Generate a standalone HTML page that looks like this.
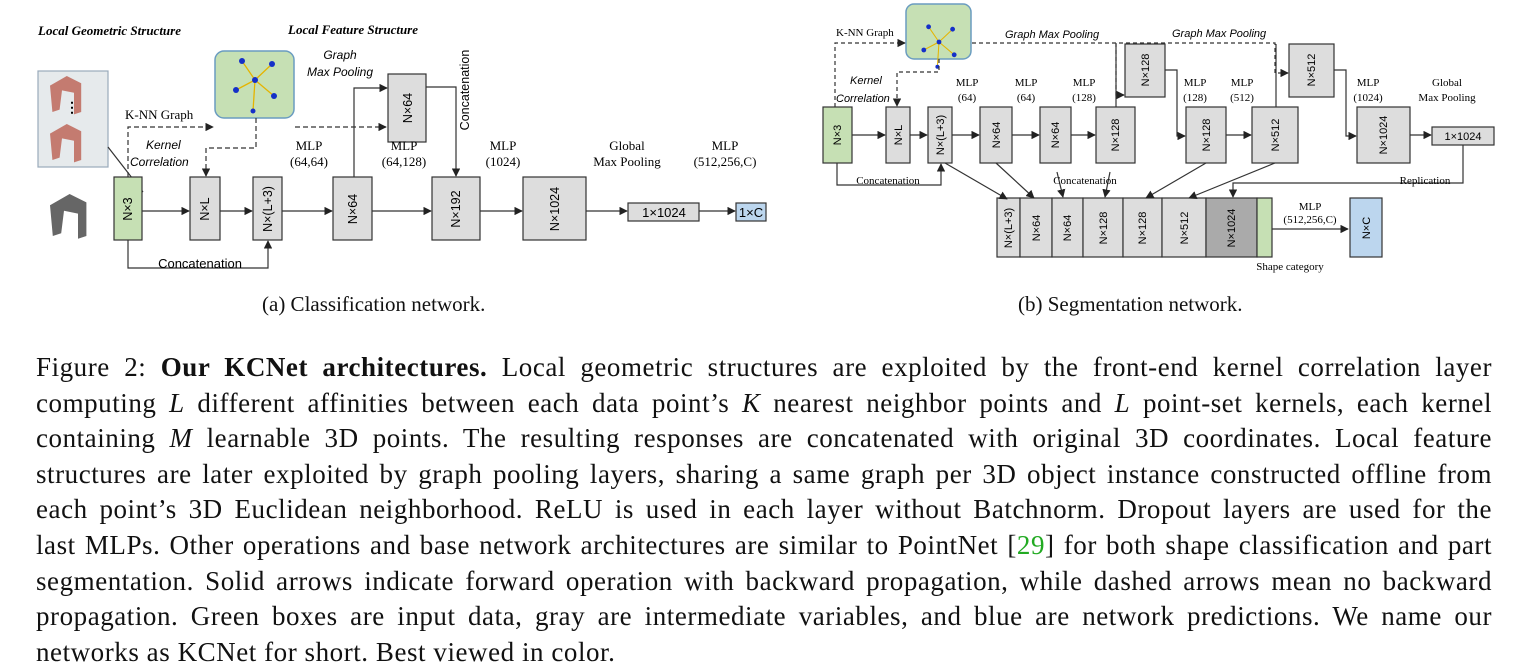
<!DOCTYPE html>
<html><head><meta charset="utf-8"><style>
body{margin:0;background:#fff;width:1530px;height:668px;overflow:hidden;position:relative}
svg{position:absolute;left:0;top:0}
.cap{position:absolute;top:292px;font:21px "Liberation Serif",serif;color:#111}
.para{position:absolute;left:36px;width:1456px;top:350px;font:27px "Liberation Serif",serif;color:#111;letter-spacing:0.55px}
.para div{height:35.6px;line-height:35.6px;text-align:justify;text-align-last:justify;white-space:nowrap}
.para div.l{text-align-last:left}
i{font-style:italic}
</style></head><body>
<svg width="1530" height="290" font-family="Liberation Sans, sans-serif">
<defs>
<marker id="a" viewBox="0 0 10 10" refX="9" refY="5" markerWidth="7" markerHeight="7" orient="auto"><path d="M0,0L10,5L0,10z" fill="#222"/></marker>
<g id="gr">
<line x1="0" y1="0" x2="-13" y2="-19" stroke="#e5b400" stroke-width="1.3"/>
<line x1="0" y1="0" x2="17" y2="-16" stroke="#e5b400" stroke-width="1.3"/>
<line x1="0" y1="0" x2="-19" y2="10" stroke="#e5b400" stroke-width="1.3"/>
<line x1="0" y1="0" x2="19" y2="16" stroke="#e5b400" stroke-width="1.3"/>
<line x1="0" y1="0" x2="-2" y2="31" stroke="#e5b400" stroke-width="1.3"/>
<circle r="3" fill="#1530c8"/><circle cx="-13" cy="-19" r="3" fill="#1530c8"/><circle cx="17" cy="-16" r="3" fill="#1530c8"/><circle cx="-19" cy="10" r="3" fill="#1530c8"/><circle cx="19" cy="16" r="3" fill="#1530c8"/><circle cx="-2" cy="31" r="2.5" fill="#1530c8"/>
</g>
<g id="chair"><path d="M0,8 L14,0 L26,6 L26,30 L20,32 L20,14 L10,12 L8,28 L2,30 Z"/></g>
</defs>
<g stroke="#333" stroke-width="1.2">
<text x="38" y="35" font-size="13" font-weight="bold" font-style="italic" stroke="none" font-family="Liberation Serif,serif">Local Geometric Structure</text>
<text x="288" y="34" font-size="13" font-weight="bold" font-style="italic" stroke="none" font-family="Liberation Serif,serif">Local Feature Structure</text>
<rect x="38" y="71" width="70" height="96" fill="#e6eaec" stroke="#9ab"/>
<use href="#chair" transform="translate(50,76) scale(1.2)" fill="#c47b70" stroke="none"/>
<use href="#chair" transform="translate(50,124) scale(1.2)" fill="#c47b70" stroke="none"/>
<text x="72" y="112" font-size="14" stroke="none" text-anchor="middle" font-weight="bold">⋮</text>
<use href="#chair" transform="translate(50,194) scale(1.4)" fill="#666" stroke="none"/>
<line x1="108" y1="147" x2="143" y2="192"/>
<rect x="215" y="51" width="79" height="67" rx="9" fill="#c6e0b4" stroke="#6a9cc0" stroke-width="1.5"/>
<use href="#gr" x="255" y="80" stroke="none"/>
<g stroke-dasharray="5,3" fill="none">
<path d="M128,177V127h85" marker-end="url(#a)"/>
<path d="M295,127h91" marker-end="url(#a)"/>
<path d="M256,118v30h-50v28" marker-end="url(#a)"/>
</g>
<text x="125" y="119" font-size="13" stroke="none" font-family="Liberation Serif,serif">K-NN Graph</text>
<text x="146" y="149" font-size="12" stroke="none" font-style="italic">Kernel</text>
<text x="130" y="166" font-size="12" stroke="none" font-style="italic">Correlation</text>
<text x="340" y="59" font-size="12" stroke="none" font-style="italic" text-anchor="middle">Graph</text>
<text x="340" y="76" font-size="12" stroke="none" font-style="italic" text-anchor="middle">Max Pooling</text>
<rect x="114" y="177" width="28" height="63" fill="#c6e0b4"/>
<rect x="190" y="177" width="30" height="63" fill="#ddd"/>
<rect x="253" y="177" width="29" height="63" fill="#ddd"/>
<rect x="333" y="177" width="39" height="63" fill="#ddd"/>
<rect x="432" y="177" width="48" height="63" fill="#ddd"/>
<rect x="523" y="177" width="63" height="63" fill="#ddd"/>
<rect x="628" y="203" width="71" height="18" fill="#ddd"/>
<rect x="736" y="203" width="30" height="18" fill="#bcd6ee"/>
<rect x="388" y="74" width="38" height="68" fill="#ddd"/>
<g fill="none">
<path d="M142,211h47" marker-end="url(#a)"/><path d="M220,211h32" marker-end="url(#a)"/>
<path d="M282,211h50" marker-end="url(#a)"/><path d="M372,211h59" marker-end="url(#a)"/>
<path d="M480,211h42" marker-end="url(#a)"/><path d="M586,211h41" marker-end="url(#a)"/>
<path d="M699,211h36" marker-end="url(#a)"/>
<path d="M128,240v28h140v-27" marker-end="url(#a)"/>
<path d="M354,177V88h33" marker-end="url(#a)"/>
<path d="M426,87h30v89" marker-end="url(#a)"/>
</g>
<g stroke="none" font-size="12.5" text-anchor="middle">
<text transform="translate(132,209) rotate(-90)">N×3</text>
<text transform="translate(209,209) rotate(-90)">N×L</text>
<text transform="translate(272,209) rotate(-90)">N×(L+3)</text>
<text transform="translate(357,209) rotate(-90)">N×64</text>
<text transform="translate(460,209) rotate(-90)">N×192</text>
<text transform="translate(559,209) rotate(-90)">N×1024</text>
<text transform="translate(412,108) rotate(-90)">N×64</text>
<text transform="translate(469,90) rotate(-90)">Concatenation</text>
<text x="664" y="217" font-size="13">1×1024</text>
<text x="751" y="217" font-size="13">1×C</text>
<text x="200" y="268" font-size="13">Concatenation</text>
<g font-family="Liberation Serif,serif" font-size="13">
<text x="309" y="150">MLP</text><text x="309" y="166">(64,64)</text>
<text x="404" y="150">MLP</text><text x="404" y="166">(64,128)</text>
<text x="503" y="150">MLP</text><text x="503" y="166">(1024)</text>
<text x="627" y="150">Global</text><text x="627" y="166">Max Pooling</text>
<text x="725" y="150">MLP</text><text x="725" y="166">(512,256,C)</text>
</g></g>
<rect x="906" y="4" width="65" height="55" rx="8" fill="#c6e0b4" stroke="#6a9cc0" stroke-width="1.5"/>
<use href="#gr" transform="translate(939,42) scale(0.8)" stroke="none"/>
<g stroke-dasharray="4,3" fill="none">
<path d="M835,107V43h70" marker-end="url(#a)"/>
<path d="M972,43h303v30h13" marker-end="url(#a)"/>
<path d="M1116,43v52h8" marker-end="url(#a)"/>
<path d="M939,59v13h-42v34" marker-end="url(#a)"/>
</g>
<g stroke="none" font-size="11">
<text x="836" y="36" font-family="Liberation Serif,serif">K-NN Graph</text>
<text x="1005" y="38" font-style="italic">Graph Max Pooling</text>
<text x="1172" y="37" font-style="italic">Graph Max Pooling</text>
<text x="850" y="84" font-style="italic">Kernel</text>
<text x="836" y="102" font-style="italic">Correlation</text>
</g>
<rect x="823" y="107" width="29" height="56" fill="#c6e0b4"/>
<rect x="886" y="107" width="24" height="56" fill="#ddd"/>
<rect x="928" y="107" width="24" height="56" fill="#ddd"/>
<rect x="980" y="107" width="32" height="56" fill="#ddd"/>
<rect x="1040" y="107" width="31" height="56" fill="#ddd"/>
<rect x="1096" y="107" width="39" height="56" fill="#ddd"/>
<rect x="1125" y="44" width="40" height="53" fill="#ddd"/>
<rect x="1186" y="107" width="40" height="56" fill="#ddd"/>
<rect x="1252" y="107" width="46" height="56" fill="#ddd"/>
<rect x="1289" y="44" width="45" height="53" fill="#ddd"/>
<rect x="1357" y="107" width="53" height="56" fill="#ddd"/>
<rect x="1432" y="127" width="62" height="18" fill="#ddd"/>
<rect x="997" y="198" width="23" height="59" fill="#ddd"/>
<rect x="1020" y="198" width="32" height="59" fill="#ddd"/>
<rect x="1052" y="198" width="31" height="59" fill="#ddd"/>
<rect x="1083" y="198" width="40" height="59" fill="#ddd"/>
<rect x="1123" y="198" width="39" height="59" fill="#ddd"/>
<rect x="1162" y="198" width="44" height="59" fill="#ddd"/>
<rect x="1206" y="198" width="51" height="59" fill="#aaa"/>
<rect x="1257" y="198" width="15" height="59" fill="#c6e0b4"/>
<rect x="1350" y="198" width="32" height="59" fill="#bcd6ee"/>
<g fill="none">
<path d="M852,135h33" marker-end="url(#a)"/><path d="M910,135h17" marker-end="url(#a)"/>
<path d="M952,135h27" marker-end="url(#a)"/><path d="M1012,135h27" marker-end="url(#a)"/>
<path d="M1071,135h24" marker-end="url(#a)"/>
<path d="M1116,107V44"/>
<path d="M1165,70h12v66h8" marker-end="url(#a)"/>
<path d="M1226,135h25" marker-end="url(#a)"/>
<path d="M1276,107V44"/>
<path d="M1334,70h12v66h10" marker-end="url(#a)"/>
<path d="M1410,135h21" marker-end="url(#a)"/>
<path d="M837,163v22h104v-21" marker-end="url(#a)"/>
<path d="M1463,145v38h-230v14" marker-end="url(#a)"/>
<path d="M1272,229h76" marker-end="url(#a)"/>
<path d="M945,163l62,36" marker-end="url(#a)"/>
<path d="M996,163l38,35" marker-end="url(#a)"/>
<path d="M1057,172l6,25" marker-end="url(#a)"/>
<path d="M1110,172l-5,25" marker-end="url(#a)"/>
<path d="M1206,163l-60,35" marker-end="url(#a)"/>
<path d="M1275,163l-86,35" marker-end="url(#a)"/>
</g>
<g stroke="none" font-size="11" text-anchor="middle">
<text transform="translate(841,135) rotate(-90)">N×3</text>
<text transform="translate(902,135) rotate(-90)">N×L</text>
<text transform="translate(944,135) rotate(-90)">N×(L+3)</text>
<text transform="translate(1000,135) rotate(-90)">N×64</text>
<text transform="translate(1059,135) rotate(-90)">N×64</text>
<text transform="translate(1119,135) rotate(-90)">N×128</text>
<text transform="translate(1149,70) rotate(-90)">N×128</text>
<text transform="translate(1210,135) rotate(-90)">N×128</text>
<text transform="translate(1279,135) rotate(-90)">N×512</text>
<text transform="translate(1315,70) rotate(-90)">N×512</text>
<text transform="translate(1387,135) rotate(-90)">N×1024</text>
<text x="1463" y="140">1×1024</text>
<text transform="translate(1012,228) rotate(-90)">N×(L+3)</text>
<text transform="translate(1040,228) rotate(-90)">N×64</text>
<text transform="translate(1071,228) rotate(-90)">N×64</text>
<text transform="translate(1107,228) rotate(-90)">N×128</text>
<text transform="translate(1146,228) rotate(-90)">N×128</text>
<text transform="translate(1188,228) rotate(-90)">N×512</text>
<text transform="translate(1235,228) rotate(-90)">N×1024</text>
<text transform="translate(1370,228) rotate(-90)">N×C</text>
<g font-family="Liberation Serif,serif">
<text x="888" y="184">Concatenation</text>
<text x="1085" y="184">Concatenation</text>
<text x="1425" y="184">Replication</text>
<text x="1290" y="270">Shape category</text>
<text x="967" y="86">MLP</text><text x="967" y="101">(64)</text>
<text x="1026" y="86">MLP</text><text x="1026" y="101">(64)</text>
<text x="1084" y="86">MLP</text><text x="1084" y="101">(128)</text>
<text x="1195" y="86">MLP</text><text x="1195" y="101">(128)</text>
<text x="1242" y="86">MLP</text><text x="1242" y="101">(512)</text>
<text x="1368" y="86">MLP</text><text x="1368" y="101">(1024)</text>
<text x="1447" y="86">Global</text><text x="1447" y="101">Max Pooling</text>
<text x="1310" y="210">MLP</text><text x="1310" y="223">(512,256,C)</text>
</g></g>
</g>
</svg>
<div class="cap" style="left:262px">(a) Classification network.</div>
<div class="cap" style="left:1018px">(b) Segmentation network.</div>
<div class="para">
<div>Figure 2: <b>Our KCNet architectures.</b> Local geometric structures are exploited by the front-end kernel correlation layer</div>
<div>computing <i>L</i> different affinities between each data point’s <i>K</i> nearest neighbor points and <i>L</i> point-set kernels, each kernel</div>
<div>containing <i>M</i> learnable 3D points. The resulting responses are concatenated with original 3D coordinates. Local feature</div>
<div>structures are later exploited by graph pooling layers, sharing a same graph per 3D object instance constructed offline from</div>
<div>each point’s 3D Euclidean neighborhood. ReLU is used in each layer without Batchnorm. Dropout layers are used for the</div>
<div>last MLPs. Other operations and base network architectures are similar to PointNet [<span style="color:#2a2">29</span>] for both shape classification and part</div>
<div>segmentation. Solid arrows indicate forward operation with backward propagation, while dashed arrows mean no backward</div>
<div>propagation. Green boxes are input data, gray are intermediate variables, and blue are network predictions. We name our</div>
<div class="l">networks as KCNet for short. Best viewed in color.</div>
</div>
</body></html>
